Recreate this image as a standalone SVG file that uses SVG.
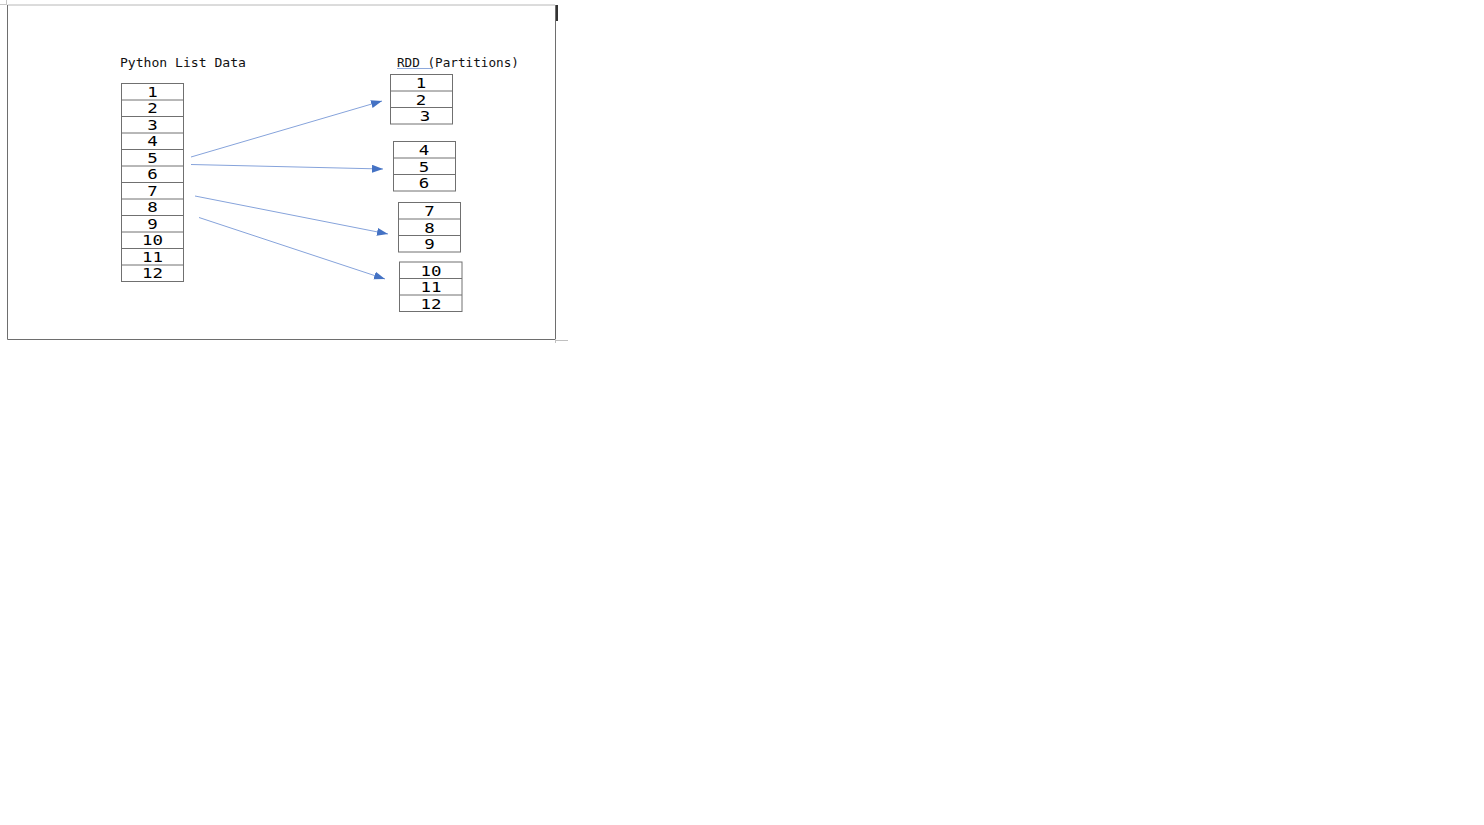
<svg xmlns="http://www.w3.org/2000/svg" width="1484" height="825" viewBox="0 0 1484 825">
<style>
.cell{fill:#fff;stroke:#707070;stroke-width:1}
.num{font-family:"DejaVu Sans Mono","Liberation Mono",monospace;font-size:14px;fill:#000;text-anchor:middle}
.title{font-family:"DejaVu Sans Mono","Liberation Mono",monospace;font-size:11.5px;fill:#111}
.conn{stroke:#86a3db;stroke-width:1;fill:none;marker-end:url(#ah)}
.frame{stroke:#6e6e6e;stroke-width:1;fill:none}
</style>
<defs>
<marker id="ah" markerUnits="userSpaceOnUse" markerWidth="12" markerHeight="10" refX="11" refY="4" orient="auto">
<path d="M0,0 L11,4 L0,8 Z" fill="#4472c4"/>
</marker>
</defs>
<rect width="1484" height="825" fill="#fff"/>
<g id="page">
<path d="M0,4.5 H7 M6.5,0 V4" stroke="#c8c8c8" fill="none"/>
<path d="M7.5,5 H555" stroke="#b8b8b8" fill="none"/>
<path class="frame" d="M7.5,5 V339.5 H555.5 V5"/>
<path d="M555.5,339 V343 M556,340.5 H568" stroke="#c0c0c0" fill="none"/>
<rect x="556" y="5" width="2" height="16" fill="#333"/>
</g>
<g id="list">
<text class="title" x="120" y="66.5" textLength="126" lengthAdjust="spacingAndGlyphs">Python List Data</text>
<rect class="cell" x="121.5" y="83.5" width="62" height="198"/>
<path class="cell" d="M121.5,100 H183.5 M121.5,116.5 H183.5 M121.5,133 H183.5 M121.5,149.5 H183.5 M121.5,166 H183.5 M121.5,182.5 H183.5 M121.5,199 H183.5 M121.5,215.5 H183.5 M121.5,232 H183.5 M121.5,248.5 H183.5 M121.5,265 H183.5"/>
<text class="num" x="152.5" y="96.5" textLength="10.5" lengthAdjust="spacingAndGlyphs">1</text>
<text class="num" x="152.5" y="113" textLength="10.5" lengthAdjust="spacingAndGlyphs">2</text>
<text class="num" x="152.5" y="129.5" textLength="10.5" lengthAdjust="spacingAndGlyphs">3</text>
<text class="num" x="152.5" y="146" textLength="10.5" lengthAdjust="spacingAndGlyphs">4</text>
<text class="num" x="152.5" y="162.5" textLength="10.5" lengthAdjust="spacingAndGlyphs">5</text>
<text class="num" x="152.5" y="179" textLength="10.5" lengthAdjust="spacingAndGlyphs">6</text>
<text class="num" x="152.5" y="195.5" textLength="10.5" lengthAdjust="spacingAndGlyphs">7</text>
<text class="num" x="152.5" y="212" textLength="10.5" lengthAdjust="spacingAndGlyphs">8</text>
<text class="num" x="152.5" y="228.5" textLength="10.5" lengthAdjust="spacingAndGlyphs">9</text>
<text class="num" x="152.5" y="245" textLength="21" lengthAdjust="spacingAndGlyphs">10</text>
<text class="num" x="152.5" y="261.5" textLength="21" lengthAdjust="spacingAndGlyphs">11</text>
<text class="num" x="152.5" y="278" textLength="21" lengthAdjust="spacingAndGlyphs">12</text>
</g>
<g id="rdd-title">
<text class="title" x="397" y="66.5" textLength="122" lengthAdjust="spacingAndGlyphs">RDD (Partitions)</text>
<path d="M397,68.5 H433" stroke="#8ea9db" stroke-width="1.2" fill="none"/>
</g>
<g id="partition1">
<rect class="cell" x="390.5" y="74.5" width="62" height="49.5"/>
<path class="cell" d="M390.5,91 H452.5 M390.5,107.5 H452.5"/>
<text class="num" x="421" y="88" textLength="10.5" lengthAdjust="spacingAndGlyphs">1</text>
<text class="num" x="421" y="104.5" textLength="10.5" lengthAdjust="spacingAndGlyphs">2</text>
<text class="num" x="425" y="121" textLength="10.5" lengthAdjust="spacingAndGlyphs">3</text>
</g>
<g id="partition2">
<rect class="cell" x="393.5" y="141.5" width="62" height="49.5"/>
<path class="cell" d="M393.5,158 H455.5 M393.5,174.5 H455.5"/>
<text class="num" x="424" y="155" textLength="10.5" lengthAdjust="spacingAndGlyphs">4</text>
<text class="num" x="424" y="171.5" textLength="10.5" lengthAdjust="spacingAndGlyphs">5</text>
<text class="num" x="424" y="188" textLength="10.5" lengthAdjust="spacingAndGlyphs">6</text>
</g>
<g id="partition3">
<rect class="cell" x="398.5" y="202.5" width="62" height="49.5"/>
<path class="cell" d="M398.5,219 H460.5 M398.5,235.5 H460.5"/>
<text class="num" x="429.5" y="216" textLength="10.5" lengthAdjust="spacingAndGlyphs">7</text>
<text class="num" x="429.5" y="232.5" textLength="10.5" lengthAdjust="spacingAndGlyphs">8</text>
<text class="num" x="429.5" y="249" textLength="10.5" lengthAdjust="spacingAndGlyphs">9</text>
</g>
<g id="partition4">
<rect class="cell" x="399.5" y="262" width="62.5" height="49.5"/>
<path class="cell" d="M399.5,278.5 H462 M399.5,295 H462"/>
<text class="num" x="431" y="275.5" textLength="21" lengthAdjust="spacingAndGlyphs">10</text>
<text class="num" x="431" y="292" textLength="21" lengthAdjust="spacingAndGlyphs">11</text>
<text class="num" x="431" y="308.5" textLength="21" lengthAdjust="spacingAndGlyphs">12</text>
</g>
<g id="connectors">
<line class="conn" x1="191" y1="157" x2="382" y2="101"/>
<line class="conn" x1="191" y1="164.5" x2="383" y2="169"/>
<line class="conn" x1="195" y1="196" x2="388" y2="234"/>
<line class="conn" x1="199" y1="217.5" x2="385" y2="279"/>
</g>
</svg>
